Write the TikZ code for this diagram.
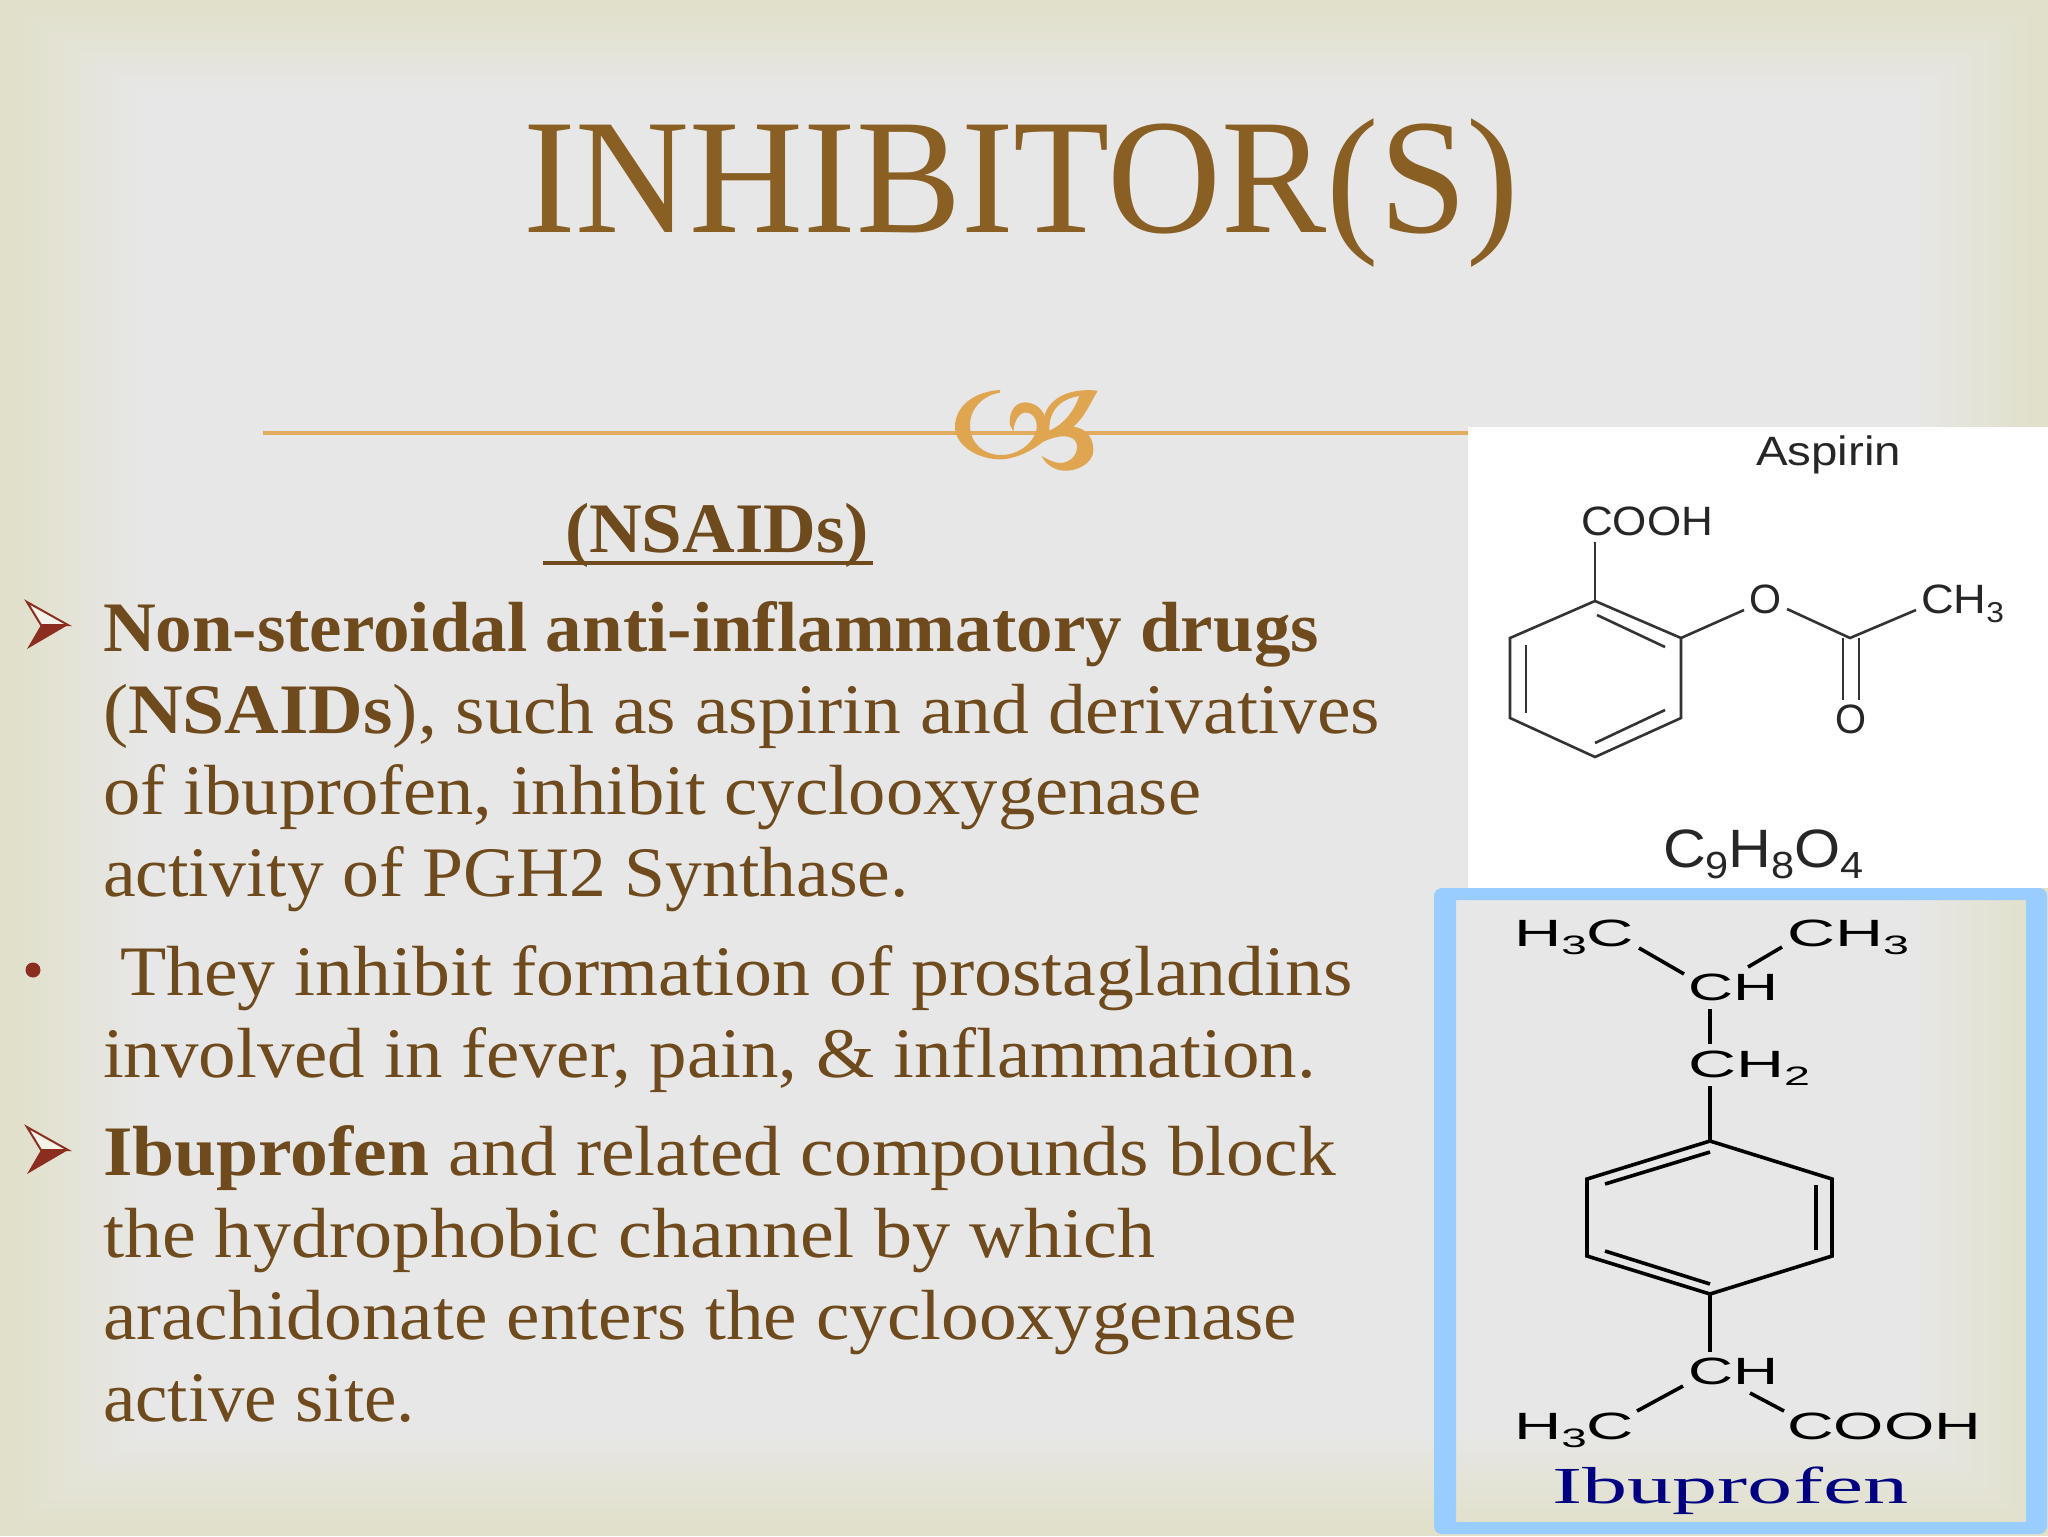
\documentclass[tikz,border=0pt]{standalone}
\usepackage{fontspec}
\setmainfont{Liberation Serif}
\newfontfamily\labf{Liberation Sans}
\definecolor{edgeC}{HTML}{E1E0CA}
\definecolor{innerC}{HTML}{E7E7E7}
\definecolor{titleC}{HTML}{8A5F24}
\definecolor{bodyC}{HTML}{6E4A1C}
\definecolor{ruleC}{HTML}{E2AC60}
\definecolor{ornC}{HTML}{E0A550}
\definecolor{bulC}{HTML}{8B2E20}
\definecolor{panelC}{HTML}{99CCFF}
\definecolor{navyC}{HTML}{000080}
\newsavebox\fitbox
\newcommand\fitw[2]{\sbox\fitbox{#2}\pgfmathsetmacro\fitr{(#1)/2/\wd\fitbox}\scalebox{\fitr}[1]{\usebox\fitbox}}
\newcommand\sbs[1]{\raisebox{-.22em}{\scalebox{.7}{#1}}}
\tikzset{
  line/.style={anchor=base west,inner sep=0pt,outer sep=0pt,text=bodyC,font=\fontsize{35.5}{40}\selectfont},
  asp/.style={anchor=base west,inner sep=0pt,outer sep=0pt,text=black!85,font=\labf\fontsize{20.5}{24}\selectfont},
  ibu/.style={anchor=base west,inner sep=0pt,outer sep=0pt,text=black,font=\labf\fontsize{19}{22}\selectfont},
  abond/.style={draw=black!80,line width=1.3pt},
  ibond/.style={draw=black,line width=1.8pt},
  arrowbullet/.pic={
    \fill[white!60!edgeC] (27,602) -- (68,625) -- (41,625) -- cycle;
    \fill[bulC] (27,649) -- (68,625) -- (41,625) -- cycle;
    \draw[bulC,line width=1pt,line join=miter] (27,602) -- (68,625) -- (41,625) -- cycle;
  }
}
\begin{document}
\begin{tikzpicture}[x=0.5pt,y=-0.5pt]
\useasboundingbox (0,0) rectangle (2048,1536);
% background vignette
\fill[edgeC] (0,0) rectangle (2048,1536);
\foreach \i in {1,...,40}{
  \pgfmathsetmacro\pc{100-\i*100/40}
  \colorlet{bgc}{edgeC!\pc!innerC}
  \fill[bgc] ({8+3.4*\i},{5+2.2*\i}) rectangle ({2040-3.2*\i},{1530-2.5*\i});
}
% rule
\coordinate (ruleL) at (263,433);
\coordinate (ruleR) at (1468,433);
\draw[ruleC,line width=1.6pt] (ruleL) -- (ruleR);
% ornament
\begin{scope}[shift={(930,370)},x=0.1667pt,y=-0.1667pt]
\fill[ornC] (210,60) .. controls (130,65) and (75,110) .. (75,170)
  .. controls (75,230) and (150,270) .. (215,268)
  .. controls (265,265) and (320,235) .. (350,205)
  .. controls (358,160) and (345,100) .. (285,97)
  .. controls (250,97) and (235,135) .. (240,165) -- (250,185)
  .. controls (252,150) and (270,125) .. (290,128)
  .. controls (315,130) and (325,160) .. (318,185)
  .. controls (305,225) and (260,255) .. (215,255)
  .. controls (160,255) and (120,220) .. (120,165)
  .. controls (120,115) and (160,75) .. (210,68) -- cycle;
\fill[ornC,even odd rule] (503,62) .. controls (440,55) and (370,70) .. (345,130)
  .. controls (340,160) and (345,185) .. (350,195) -- (430,170)
  .. controls (465,140) and (480,100) .. (503,62) -- cycle
  (448,78) .. controls (400,85) and (355,115) .. (358,182)
  .. controls (405,160) and (430,125) .. (448,78) -- cycle;
\fill[ornC] (335,205) .. controls (370,185) and (410,168) .. (430,170)
  .. controls (470,175) and (490,205) .. (490,240)
  .. controls (490,280) and (440,305) .. (400,302)
  .. controls (370,300) and (345,280) .. (335,258)
  .. controls (355,270) and (380,282) .. (400,278)
  .. controls (430,272) and (445,245) .. (440,222)
  .. controls (432,195) and (395,190) .. (340,215) -- cycle;
\end{scope}
% title
\node[anchor=base west,inner sep=0pt,text=titleC,font=\fontsize{82}{90}\selectfont] (title) at (523,232) {\fitw{996}{INHIBITOR(S)}};
% subheading
\node[line,font=\bfseries\fontsize{35.5}{40}\selectfont] (nsaid) at (565,552) {\fitw{304}{(NSAIDs)}};
\coordinate (ulL) at (543,563);
\coordinate (ulR) at (873,563);
\draw[bodyC,line width=2pt] (ulL) -- (ulR);
% bullets
\pic at (0,0) {arrowbullet};
\pic at (0,525) {arrowbullet};
\fill[bulC] (33,970) circle (7.5);
% body
\node[line] (l1) at (103,651) {\fitw{1216}{\textbf{Non-steroidal anti-inflammatory drugs}}};
\node[line] (l2) at (103,733) {\fitw{1277}{(\textbf{NSAIDs}), such as aspirin and derivatives}};
\node[line] (l3) at (103,814) {\fitw{1098}{of ibuprofen, inhibit cyclooxygenase}};
\node[line] (l4) at (103,896) {\fitw{806}{activity of PGH2 Synthase.}};
\node[line] (l5) at (120,995) {\fitw{1233}{They inhibit formation of prostaglandins}};
\node[line] (l6) at (103,1077) {\fitw{1213}{involved in fever, pain, \& inflammation.}};
\node[line] (l7) at (103,1175) {\fitw{1233}{\textbf{Ibuprofen} and related compounds block}};
\node[line] (l8) at (103,1257) {\fitw{1052}{the hydrophobic channel by which}};
\node[line] (l9) at (103,1339) {\fitw{1194}{arachidonate enters the cyclooxygenase}};
\node[line] (l10) at (103,1421) {\fitw{312}{active site.}};
% aspirin image
\fill[white] (1468,427) rectangle (2048,888);
\node[asp] (aspName) at (1756,465) {\fitw{145}{Aspirin}};
\node[asp] (aCOOH) at (1581,535) {\fitw{132}{COOH}};
\node[asp] (aO1) at (1749,613) {\fitw{32}{O}};
\node[asp] (aCH3) at (1921,613) {\fitw{83}{CH\sbs{3}}};
\node[asp] (aO2) at (1835,733) {\fitw{31}{O}};
\node[asp,font=\labf\fontsize{27}{30}\selectfont] (aForm) at (1663,867) {\fitw{201}{C\sbs{9}H\sbs{8}O\sbs{4}}};
\coordinate (r1) at (1595,601);
\coordinate (r2) at (1681,638);
\coordinate (r3) at (1681,718);
\coordinate (r4) at (1595,757);
\coordinate (r5) at (1510,718);
\coordinate (r6) at (1510,638);
\coordinate (aC) at (1850,638);
\draw[abond,line join=miter] (r1) -- (r2) -- (r3) -- (r4) -- (r5) -- (r6) -- cycle;
\draw[abond] (1597,615) -- (1665,647);
\draw[abond] (1526,645) -- (1526,713);
\draw[abond] (1595,743) -- (1665,710);
\draw[abond] (r1) -- (1595,542);
\draw[abond] (r2) -- (1744,610);
\draw[abond] (1787,609) -- (aC) -- (1916,610);
\draw[abond] (1843,638) -- (1843,700);
\draw[abond] (1859,638) -- (1859,700);
% ibuprofen panel
\fill[panelC,even odd rule,rounded corners=4] (1434,888) rectangle (2047,1534) [sharp corners] (1456,900) rectangle (2026,1522);
\node[ibu] (iA) at (1514,946) {\fitw{120}{H\sbs{3}C}};
\node[ibu] (iB) at (1787,946) {\fitw{122}{CH\sbs{3}}};
\node[ibu] (iC) at (1688,1000) {\fitw{90}{CH}};
\node[ibu] (iD) at (1688,1077) {\fitw{122}{CH\sbs{2}}};
\node[ibu] (iE) at (1688,1384) {\fitw{90}{CH}};
\node[ibu] (iF) at (1514,1439) {\fitw{120}{H\sbs{3}C}};
\node[ibu] (iG) at (1787,1439) {\fitw{194}{COOH}};
\node[anchor=base west,inner sep=0pt,text=navyC,font=\fontsize{26}{28}\selectfont] (iName) at (1552,1503) {\fitw{356}{Ibuprofen}};
\coordinate (s1) at (1710,1141);
\coordinate (s2) at (1832,1179);
\coordinate (s3) at (1832,1256);
\coordinate (s4) at (1710,1294);
\coordinate (s5) at (1587,1256);
\coordinate (s6) at (1587,1179);
\draw[ibond,line join=miter] (s1) -- (s2) -- (s3) -- (s4) -- (s5) -- (s6) -- cycle;
\draw[ibond] (1605,1184) -- (1710,1152);
\draw[ibond] (1816,1185) -- (1816,1250);
\draw[ibond] (1605,1251) -- (1710,1284);
\draw[ibond] (1639,948) -- (1684,974);
\draw[ibond] (1782,947) -- (1748,967);
\draw[ibond] (1710,1009) -- (1710,1044);
\draw[ibond] (1710,1086) -- (s1);
\draw[ibond] (s4) -- (1710,1352);
\draw[ibond] (1683,1386) -- (1637,1411);
\draw[ibond] (1750,1393) -- (1784,1411);
\end{tikzpicture}
\end{document}
